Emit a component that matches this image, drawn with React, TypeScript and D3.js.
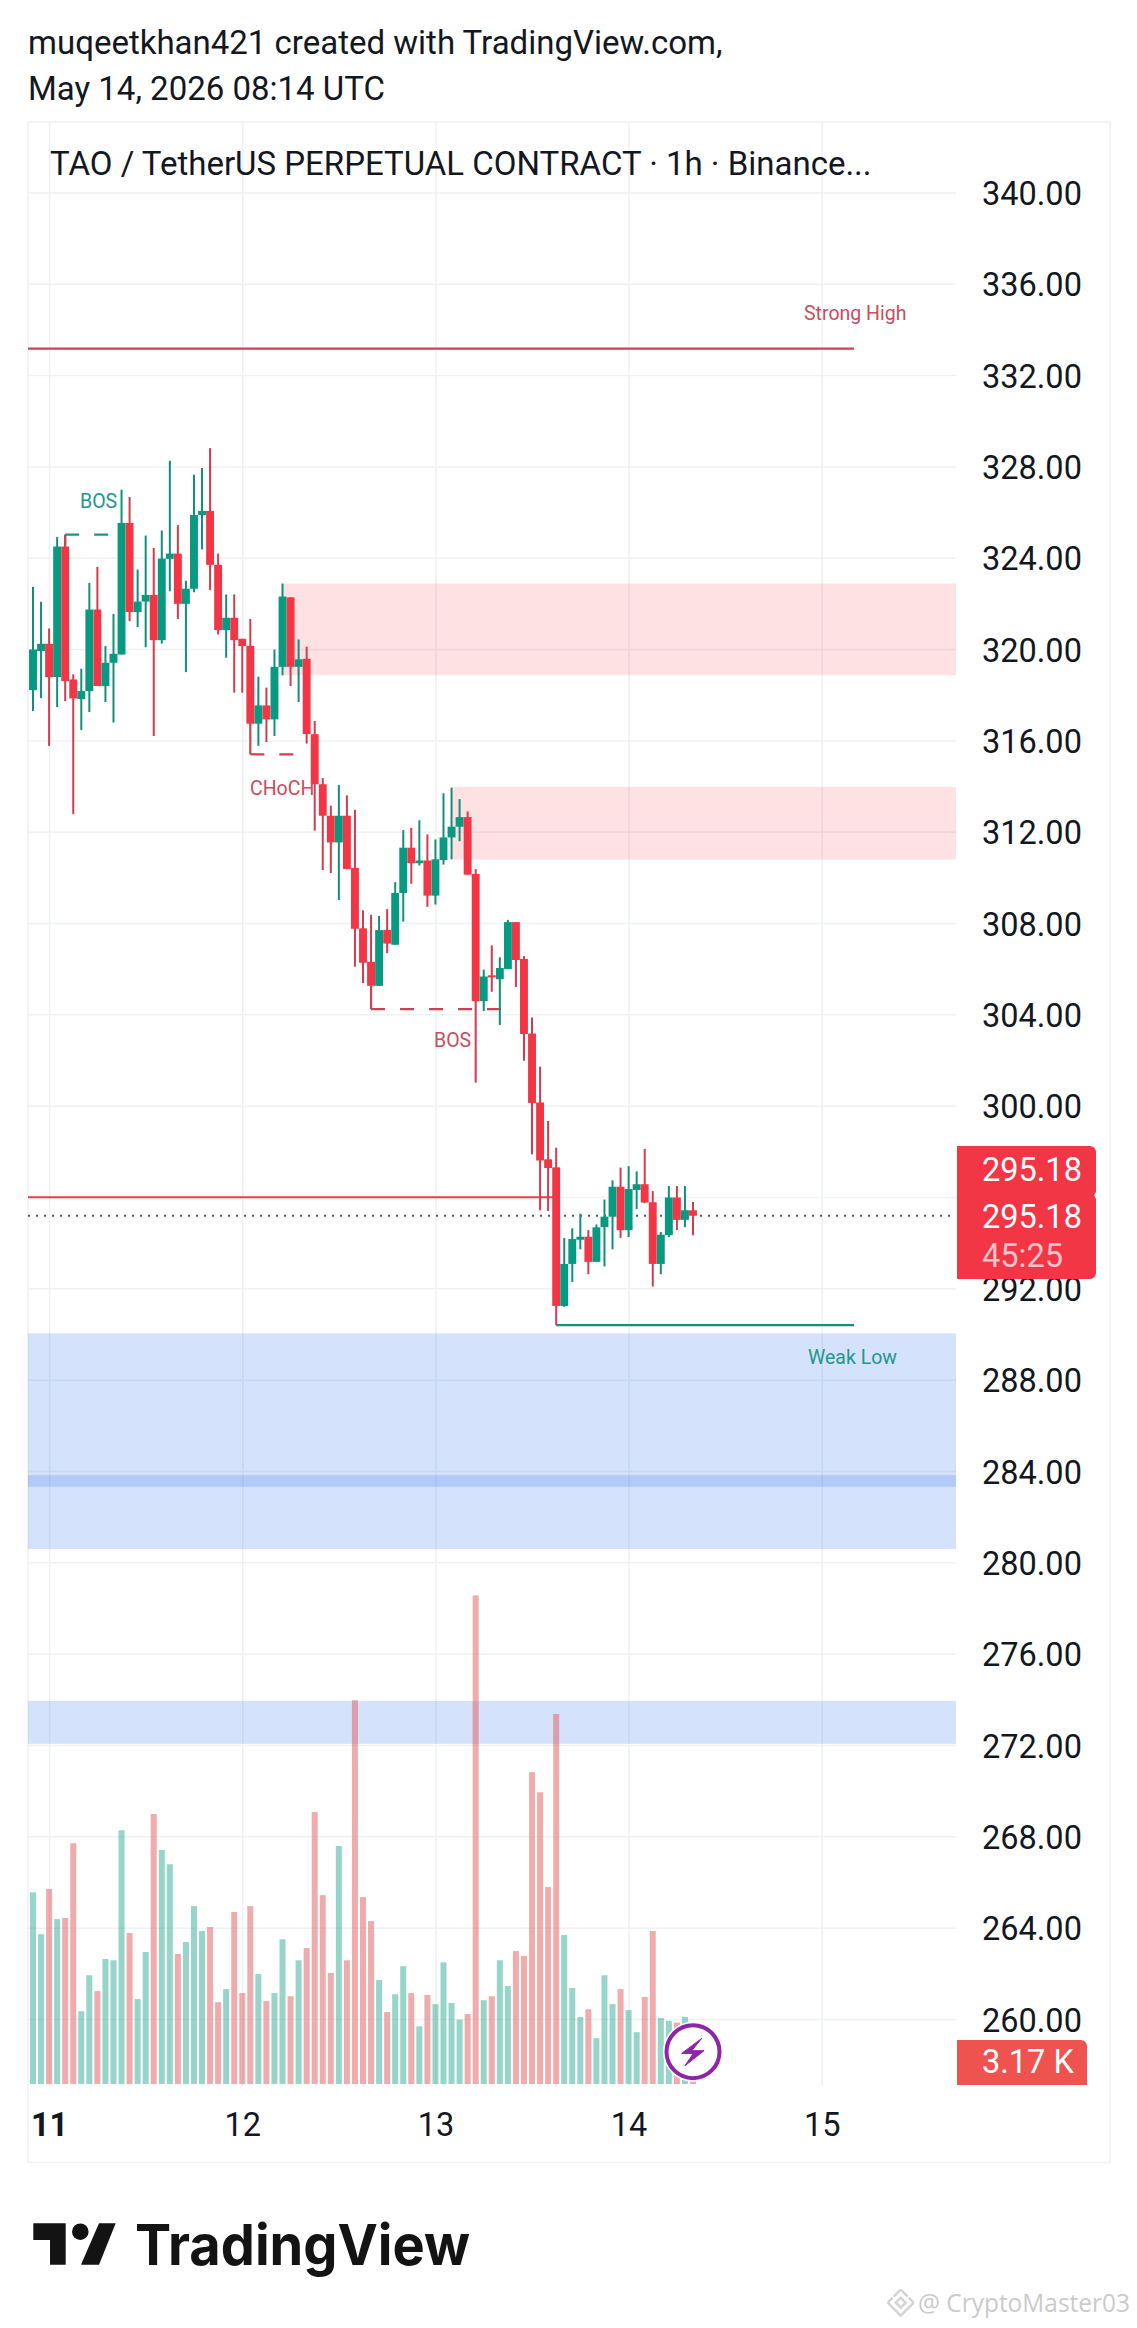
import React, { useEffect, useRef } from 'react';
import * as d3 from 'd3';

// candles, one per hour
const opens = [318.2, 319.91, 320.23, 318.77, 324.49, 318.67, 317.81, 318.16, 321.73, 318.38, 319.4, 319.76, 325.52, 321.62, 322.08, 322.37, 320.39, 323.95, 324.18, 321.98, 322.64, 325.87, 326.05, 323.69, 320.83, 321.37, 320.45, 320.14, 316.73, 317.53, 316.92, 319.22, 322.26, 319.22, 319.57, 316.27, 314.08, 312.7, 311.53, 312.7, 310.41, 307.77, 306.3, 305.25, 307.7, 307.05, 309.32, 311.3, 310.62, 310.74, 309.2, 310.76, 311.75, 312.22, 312.64, 310.15, 304.58, 305.71, 305.54, 305.99, 308.04, 306.43, 303.16, 300.14, 297.65, 297.3, 291.23, 293.07, 294.13, 294.26, 293.16, 294.68, 295.14, 296.45, 294.55, 296.31, 296.56, 295.77, 293.07, 294.33, 295.98, 295.0, 295.42];
const highs = [322.72, 322.07, 320.9, 324.91, 325.01, 318.89, 319.14, 322.9, 323.6, 320.13, 321.54, 326.98, 326.66, 323.48, 324.97, 324.43, 325.19, 328.25, 325.43, 322.99, 327.64, 327.93, 328.8, 324.18, 322.39, 322.39, 320.45, 321.32, 318.79, 318.31, 319.98, 322.87, 322.28, 320.42, 320.1, 316.85, 314.35, 313.14, 314.05, 313.59, 312.96, 308.56, 308.36, 308.31, 308.61, 309.79, 312.07, 312.17, 312.5, 311.88, 311.66, 313.68, 313.93, 313.43, 312.89, 310.36, 305.96, 307.02, 306.5, 308.14, 308.04, 306.55, 303.86, 301.71, 299.33, 298.16, 294.21, 294.63, 295.27, 294.55, 294.8, 295.89, 296.73, 297.29, 297.35, 297.12, 298.11, 296.26, 294.47, 296.48, 296.48, 296.48, 295.78];
const lows = [317.29, 317.85, 315.76, 317.46, 317.72, 312.77, 316.45, 317.24, 318.38, 317.68, 316.78, 319.76, 321.22, 320.96, 320.08, 316.19, 320.24, 322.53, 321.32, 318.99, 322.49, 324.36, 322.58, 320.64, 319.62, 318.09, 318.09, 316.7, 315.76, 315.93, 316.19, 318.85, 318.38, 317.68, 315.86, 312.05, 310.32, 310.19, 309.01, 310.36, 306.09, 305.37, 305.2, 305.25, 306.68, 307.05, 308.06, 309.72, 310.52, 308.71, 308.81, 310.56, 310.79, 311.58, 310.12, 301.01, 304.15, 304.99, 303.53, 305.99, 305.2, 301.97, 297.87, 295.42, 295.39, 290.39, 291.19, 292.28, 293.71, 292.62, 293.16, 292.96, 293.71, 294.21, 294.25, 295.47, 295.73, 292.08, 292.62, 294.25, 294.55, 294.68, 294.33];
const closes = [319.98, 320.23, 318.77, 324.49, 318.6, 317.84, 318.16, 321.73, 318.38, 319.4, 319.79, 325.52, 321.62, 322.08, 322.37, 320.39, 323.96, 324.18, 321.98, 322.64, 325.87, 326.05, 323.69, 320.83, 321.37, 320.39, 320.13, 316.73, 317.53, 316.92, 319.22, 322.3, 319.22, 319.55, 316.28, 314.08, 312.7, 311.53, 312.7, 310.37, 307.75, 306.26, 305.25, 307.69, 307.1, 309.32, 311.3, 310.62, 310.74, 309.2, 310.79, 311.75, 312.22, 312.64, 310.12, 304.58, 305.66, 305.62, 306.03, 308.04, 306.38, 303.14, 300.12, 297.6, 297.27, 291.23, 293.07, 294.16, 294.26, 293.16, 294.67, 295.14, 296.45, 294.55, 296.35, 296.56, 295.76, 293.07, 294.35, 295.98, 295.0, 295.42, 295.18];
// volume in thousands
const volumes = [18.44, 14.41, 18.75, 15.86, 15.97, 23.16, 7.0, 10.46, 8.94, 12.02, 11.9, 24.41, 14.52, 8.17, 12.7, 25.97, 22.51, 21.14, 12.51, 13.65, 17.11, 14.71, 15.1, 7.87, 9.13, 16.54, 8.75, 17.11, 10.57, 7.98, 8.75, 13.92, 8.44, 11.9, 13.08, 26.16, 18.17, 10.68, 22.89, 11.9, 36.92, 17.98, 15.67, 10.0, 6.92, 8.63, 11.33, 8.75, 5.55, 8.56, 7.68, 11.71, 7.79, 6.2, 6.73, 47.0, 8.06, 8.44, 11.9, 9.43, 12.78, 12.32, 30.0, 28.06, 18.94, 35.59, 14.33, 9.24, 6.43, 7.19, 4.41, 10.46, 7.68, 9.13, 7.11, 4.98, 8.37, 14.71, 6.35, 6.08, 5.9, 6.46, 3.17];

const priceTicks = [340, 336, 332, 328, 324, 320, 316, 312, 308, 304, 300, 296, 292, 288, 284, 280, 276, 272, 268, 264, 260];
const dayTicks = [2, 26, 50, 74, 98]; // candle index of each midnight
const dayLabels = ['11', '12', '13', '14', '15'];

const lastPrice = 295.18;
const countdown = '45:25';

// supply and demand zones: [start candle, top, bottom]
const pinkZones: [number, number, number][] = [
  [31, 322.87, 318.86],
  [52, 313.96, 310.78],
];
const blueZones: [number, number][] = [
  [290.03, 280.58],
  [283.82, 283.31],
  [273.93, 272.05],
];

// structure breaks: [corner candle, end candle, price, wick end price]
const greenDash: [number, number, number, number] = [4, 11, 325.01, 324.5];
const redDashes: [number, number, number, number][] = [
  [27, 34, 315.39, 316.73],
  [42, 59, 304.23, 305.25],
];

const UP = '#089981';
const DOWN = '#f23645';
const ROBOTO = 'Roboto, sans-serif';

const draw = (el: SVGSVGElement) => {
  const svg = d3.select(el);
  svg.selectAll('*').remove();

  const left = 28;
  const right = 956;
  const top = 122;
  const bottom = 2084;

  const x = d3.scaleLinear().domain([0, 82]).range([33, 693]);
  const y = d3.scaleLinear().domain([340, 260]).range([192.4, 2019]);
  const vol = d3.scaleLinear().domain([0, 50]).range([bottom, bottom - 519.8]);

  svg.append('rect').attr('width', 1137).attr('height', 2328).attr('fill', '#fff');

  // outer frame
  svg
    .append('rect')
    .attr('x', left)
    .attr('y', top)
    .attr('width', 1110 - left)
    .attr('height', 2162.5 - top)
    .attr('fill', 'none')
    .attr('stroke', '#f1f1f3')
    .attr('stroke-width', 1.5);

  // grid + axes
  const yGrid = svg
    .append('g')
    .attr('transform', `translate(${left},0)`)
    .call(d3.axisRight(y).tickValues(priceTicks).tickSize(right - left));
  yGrid.select('.domain').remove();
  yGrid.selectAll('text').remove();
  yGrid.selectAll('line').attr('stroke', '#f0f1f4').attr('stroke-width', 1.5);

  const xGrid = svg
    .append('g')
    .attr('transform', `translate(0,${bottom + 2})`)
    .call(d3.axisTop(x).tickValues(dayTicks).tickSize(bottom + 2 - top));
  xGrid.select('.domain').remove();
  xGrid.selectAll('text').remove();
  xGrid.selectAll('line').attr('stroke', '#eff0f3').attr('stroke-width', 1.5);

  const yAxis = svg
    .append('g')
    .attr('transform', `translate(${right},0)`)
    .call(d3.axisRight(y).tickValues(priceTicks).tickSize(0).tickPadding(26).tickFormat(d3.format('.2f')));
  yAxis.select('.domain').remove();
  yAxis
    .selectAll('text')
    .attr('font-family', ROBOTO)
    .attr('font-size', 32.5)
    .attr('dy', '0.37em')
    .attr('fill', '#131722');

  const xAxis = svg
    .append('g')
    .attr('transform', `translate(0,2113)`)
    .call(
      d3
        .axisBottom(x)
        .tickValues(dayTicks)
        .tickSize(0)
        .tickPadding(0)
        .tickFormat((_, i) => dayLabels[i]),
    );
  xAxis.select('.domain').remove();
  xAxis
    .selectAll('text')
    .attr('font-family', ROBOTO)
    .attr('font-size', 32.5)
    .attr('fill', '#131722')
    .attr('dy', '0.71em')
    .attr('y', 0)
    .attr('font-weight', (_, i) => (i === 0 ? 700 : 400));

  // zones
  blueZones.forEach(([a, b]) => {
    svg
      .append('rect')
      .attr('x', left)
      .attr('y', y(a))
      .attr('width', right - left)
      .attr('height', y(b) - y(a))
      .attr('fill', 'rgba(41,110,235,0.2)');
  });
  pinkZones.forEach(([i, a, b]) => {
    svg
      .append('rect')
      .attr('x', x(i))
      .attr('y', y(a))
      .attr('width', right - x(i))
      .attr('height', y(b) - y(a))
      .attr('fill', 'rgba(242,54,69,0.15)');
  });

  // volume
  svg
    .append('g')
    .selectAll('rect')
    .data(volumes)
    .join('rect')
    .attr('x', (_, i) => x(i) - 3)
    .attr('y', (d) => vol(d))
    .attr('width', 6)
    .attr('height', (d) => bottom - vol(d))
    .attr('fill', (_, i) => (closes[i] >= opens[i] ? 'rgba(8,153,129,0.42)' : 'rgba(225,90,90,0.5)'));

  // horizontal levels
  const level = (x1: number, x2: number, p: number, color: string) =>
    svg
      .append('line')
      .attr('x1', x1)
      .attr('x2', x2)
      .attr('y1', y(p))
      .attr('y2', y(p))
      .attr('stroke', color)
      .attr('stroke-width', 2.2);
  level(left, 854, 333.16, '#d1404f');
  level(left, x(64.6), 295.99, '#ec3d4e');
  level(x(65), 854, 290.39, '#159080');

  // last price dotted line
  level(left, right, lastPrice, '#50535e').attr('stroke-width', 2).attr('stroke-dasharray', '2 6');

  // dashed structure lines
  const dash = ([a, b, p, w]: [number, number, number, number], color: string) => {
    svg
      .append('path')
      .attr('d', `M${x(a)},${y(w)}V${y(p)}`)
      .attr('stroke', color)
      .attr('stroke-width', 2.2);
    svg
      .append('path')
      .attr('d', `M${x(a)},${y(p)}H${x(b)}`)
      .attr('fill', 'none')
      .attr('stroke', color)
      .attr('stroke-width', 2.2)
      .attr('stroke-dasharray', '14 15');
  };
  dash(greenDash, '#1d9485');
  redDashes.forEach((d) => dash(d, '#d1404f'));

  // candles
  const candles = svg.append('g').selectAll('g').data(opens).join('g');
  candles
    .append('line')
    .attr('x1', (_, i) => x(i))
    .attr('x2', (_, i) => x(i))
    .attr('y1', (_, i) => y(highs[i]))
    .attr('y2', (_, i) => y(lows[i]))
    .attr('stroke', (d, i) => (closes[i] >= d ? '#128e7b' : '#d43b4c'))
    .attr('stroke-width', 2);
  candles
    .append('rect')
    .attr('x', (_, i) => x(i) - 3.95)
    .attr('y', (d, i) => y(Math.max(d, closes[i])))
    .attr('width', 7.9)
    .attr('height', (d, i) => Math.max(2, Math.abs(y(d) - y(closes[i]))))
    .attr('fill', (d, i) => (closes[i] >= d ? UP : DOWN));

  // labels on the chart
  const label = (t: string, lx: number, ly: number, color: string) =>
    svg
      .append('text')
      .text(t)
      .attr('x', lx)
      .attr('y', ly)
      .attr('font-family', ROBOTO)
      .attr('font-size', 19.5)
      .attr('fill', color);
  label('BOS', 80, 508, '#23978a');
  label('CHoCH', 250, 795, '#c94c60');
  label('BOS', 434, 1047, '#c94c60');
  label('Strong High', 804, 320, '#c94c60');
  label('Weak Low', 808, 1364, '#23978a');

  // header
  const header = (t: string, hx: number, hy: number) =>
    svg
      .append('text')
      .text(t)
      .attr('x', hx)
      .attr('y', hy)
      .attr('font-family', ROBOTO)
      .attr('font-size', 33)
      .attr('fill', '#131722');
  header('muqeetkhan421 created with TradingView.com,', 28, 54);
  header('May 14, 2026 08:14 UTC', 28, 100);
  header('TAO / TetherUS PERPETUAL CONTRACT · 1h · Binance...', 50, 175);

  // price tags, the two red ones touch so the 296 label stays hidden
  const tag = (d: string, c: string) => svg.append('path').attr('d', d).attr('fill', c);
  tag('M957,1146H1090a6,6 0 0 1 6,6V1192l-2,3l2,4V1273a6,6 0 0 1 -6,6H957Z', DOWN);
  tag('M957,2040H1081a6,6 0 0 1 6,6V2085H957Z', '#ef5350');
  const tagText = (t: string, ty: number, fill: string) =>
    svg
      .append('text')
      .text(t)
      .attr('x', 982)
      .attr('y', ty)
      .attr('dy', '0.35em')
      .attr('font-family', ROBOTO)
      .attr('font-size', 32.5)
      .attr('fill', fill);
  tagText(d3.format('.2f')(lastPrice), 1170, '#fff');
  tagText(d3.format('.2f')(lastPrice), 1217, '#fff');
  tagText(countdown, 1256, '#fbc4c9');
  tagText(`${d3.format('.2f')(volumes[82])} K`, 2062, '#fff');

  // lightning badge
  const bolt = svg.append('g').attr('transform', `translate(${x(82)},2051.7)`);
  bolt.append('circle').attr('r', 30).attr('fill', '#fff');
  bolt.append('circle').attr('r', 26.5).attr('fill', '#fff').attr('stroke', '#8e24aa').attr('stroke-width', 4);
  bolt
    .append('path')
    .attr('d', 'M8.7,-13.3L-11.3,1.7H0.3L-8,14L11,-1H-1.3Z')
    .attr('fill', '#8e24aa')
    .attr('stroke', '#8e24aa')
    .attr('stroke-linejoin', 'round');

  // TradingView logo
  svg.append('path').attr('d', 'M33.3,2223.3H65.7V2264.7H50V2240H33.3Z').attr('fill', '#131313');
  svg.append('circle').attr('cx', 80.3).attr('cy', 2231.7).attr('r', 8.3).attr('fill', '#131313');
  svg.append('path').attr('d', 'M99,2223.3H115.7L99,2264.7H81Z').attr('fill', '#131313');
  svg
    .append('text')
    .text('TradingView')
    .attr('x', 135)
    .attr('y', 2264.7)
    .attr('font-family', 'Inter, sans-serif')
    .attr('font-weight', 700)
    .attr('font-size', 56)
    .attr('textLength', 335)
    .attr('lengthAdjust', 'spacingAndGlyphs')
    .attr('fill', '#131313');

  // watermark
  const wm = svg
    .append('g')
    .attr('transform', 'translate(900.7,2302.7)')
    .attr('fill', 'none')
    .attr('stroke', '#d4d4d4')
    .attr('stroke-width', 2.5);
  wm.append('path').attr('d', 'M0,-13L7,-6M0,-13L-7,-6M-13,0L-8,-5M13,0L8,-5M-13,0L0,13L13,0');
  wm.append('path').attr('d', 'M0,-5L5,0L0,5L-5,0Z');
  svg
    .append('text')
    .text('@ CryptoMaster03')
    .attr('x', 918)
    .attr('y', 2312)
    .attr('font-family', '"Open Sans", sans-serif')
    .attr('font-size', 26)
    .attr('textLength', 212)
    .attr('lengthAdjust', 'spacingAndGlyphs')
    .attr('fill', '#cbcbcb');
};

const App: React.FC = () => {
  const ref = useRef<SVGSVGElement>(null);

  useEffect(() => {
    if (ref.current) draw(ref.current);
  }, []);

  return <svg ref={ref} width={1137} height={2328} style={{ position: 'absolute', left: 0, top: 0, display: 'block' }} />;
};

export default App;
